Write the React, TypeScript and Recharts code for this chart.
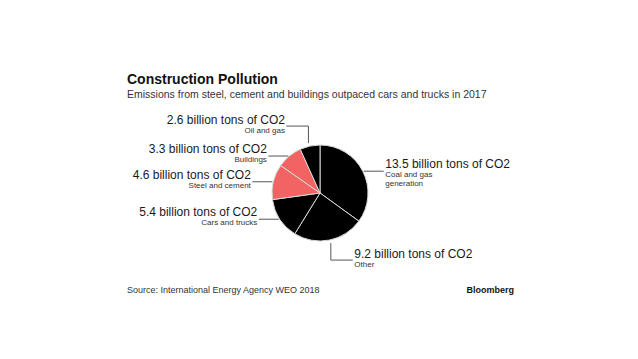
import React from "react";
import { PieChart, Pie, Cell } from "recharts";

const categories = [
  "Coal and gas\ngeneration",
  "Other",
  "Cars and trucks",
  "Steel and cement",
  "Buildings",
  "Oil and gas",
];
const values = [13.5, 9.2, 5.4, 4.6, 3.3, 2.6];
const highlighted = ["Steel and cement", "Buildings"];

const title = "Construction Pollution";
const subtitle =
  "Emissions from steel, cement and buildings outpaced cars and trucks in 2017";
const source = "Source: International Energy Agency WEO 2018";
const brand = "Bloomberg";

const data = categories.map((c, i) => ({ name: c, value: values[i] }));

const RED = "#f26464";
const BLACK = "#000000";
const FONT = "'Liberation Sans', Arial, Helvetica, sans-serif";
const RAD = Math.PI / 180;

const renderLabel = (props: any) => {
  const { cx, cy, midAngle, outerRadius, index } = props;
  const name: string = categories[index];
  const value: number = values[index];
  const cos = Math.cos(midAngle * RAD);
  const sin = Math.sin(midAngle * RAD);
  const ex = cx + outerRadius * cos;
  const ey = cy - outerRadius * sin;
  const dir = cos < 0 ? -1 : 1;
  const lines = name.split("\n");
  const main = `${value.toFixed(1)} billion tons of CO2`;
  let path = "";
  let tx = 0;
  let ty = 0;
  if (Math.abs(sin) > 0.9) {
    const dy = sin > 0 ? -1 : 1;
    const x0 = ex + dir * 1.5;
    const y0 = ey + dy * 3;
    const y1 = y0 + dy * 17;
    const x1 = x0 + dir * 22;
    path = `M${x0},${y0}L${x0},${y1}L${x1},${y1}`;
    tx = x1 + dir * 1.5;
    ty = y1 - 2;
  } else {
    const x0 = ex + dir * 1;
    const x1 = ex + dir * 21;
    path = `M${x0},${ey}L${x1},${ey}`;
    tx = x1 + dir * 1.5;
    ty = ey - 3;
  }
  const anchor = dir < 0 ? "end" : "start";
  return (
    <g key={`lbl-${index}`}>
      <path d={path} stroke="#555" strokeWidth={1} fill="none" />
      <text
        x={tx}
        y={ty}
        textAnchor={anchor}
        fontFamily={FONT}
        fontSize={12}
        fill="#1a1a1a"
      >
        {main}
      </text>
      {lines.map((l, k) => (
        <text
          key={k}
          x={tx}
          y={ty + 9 + k * 8.5}
          textAnchor={anchor}
          fontFamily={FONT}
          fontSize={8}
          fill="#333"
        >
          {l}
        </text>
      ))}
    </g>
  );
};

export default function App() {
  return (
    <div
      style={{
        position: "absolute",
        left: 0,
        top: 0,
        width: 638,
        height: 359,
        background: "#fff",
        fontFamily: FONT,
      }}
    >
      <div
        style={{
          position: "absolute",
          left: 127,
          top: 72,
          fontSize: 14,
          lineHeight: "14px",
          fontWeight: 700,
          color: "#111",
          whiteSpace: "nowrap",
        }}
      >
        {title}
      </div>
      <div
        style={{
          position: "absolute",
          left: 127,
          top: 89,
          fontSize: 10.5,
          lineHeight: "10.5px",
          color: "#333",
          whiteSpace: "nowrap",
        }}
      >
        {subtitle}
      </div>
      <div style={{ position: "absolute", left: 0, top: 0 }}>
        <PieChart width={638} height={359} margin={{ top: 0, right: 0, bottom: 0, left: 0 }}>
          <Pie
            data={data}
            dataKey="value"
            nameKey="name"
            cx={320}
            cy={193}
            innerRadius={0}
            outerRadius={48}
            startAngle={90}
            endAngle={-270}
            stroke="#d8d8d8"
            strokeWidth={1}
            label={renderLabel}
            labelLine={false}
            isAnimationActive={false}
          >
            {data.map((d, i) => (
              <Cell
                key={i}
                fill={highlighted.includes(d.name) ? RED : BLACK}
              />
            ))}
          </Pie>
        </PieChart>
      </div>
      <div
        style={{
          position: "absolute",
          left: 127,
          top: 285.5,
          fontSize: 9,
          lineHeight: "9px",
          color: "#333",
          whiteSpace: "nowrap",
        }}
      >
        {source}
      </div>
      <div
        style={{
          position: "absolute",
          right: 638 - 514,
          top: 286,
          fontSize: 9,
          lineHeight: "9px",
          fontWeight: 700,
          color: "#111",
          whiteSpace: "nowrap",
        }}
      >
        {brand}
      </div>
    </div>
  );
}
